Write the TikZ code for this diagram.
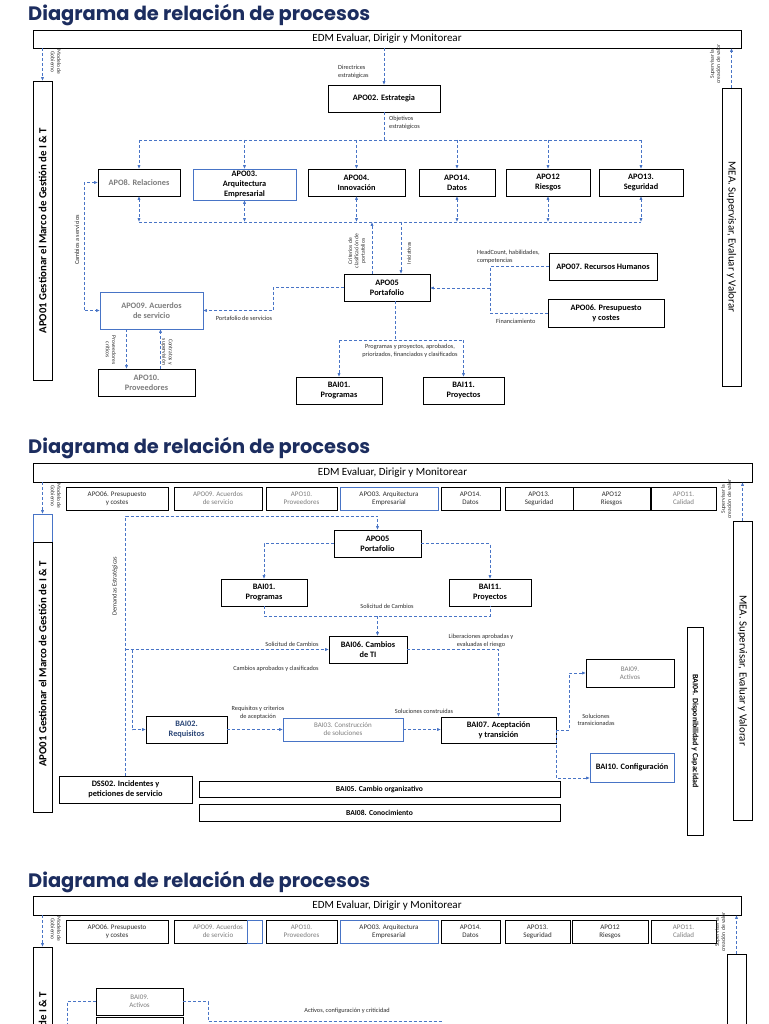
\documentclass[tikz,border=0pt]{standalone}
\usepackage{fontspec}
\usepackage{graphicx}
\setmainfont{Carlito}
\newfontfamily\titlefont{Poppins}
\usetikzlibrary{arrows.meta,calc}
\definecolor{cblue}{RGB}{72,116,198}
\definecolor{navy}{RGB}{28,45,95}
\definecolor{gtxt}{RGB}{125,125,125}
\definecolor{dtxt}{RGB}{45,45,45}
\tikzset{
 bx/.style={draw=black, line width=0.8pt, inner sep=1pt, outer sep=0pt, align=center, font=\fontsize{8.3}{9.8}\selectfont\bfseries, text=black},
 bxb/.style={bx, draw=cblue},
 gr/.style={text=gtxt},
 rg/.style={font=\fontsize{7}{8}\selectfont, text=dtxt},
 rgg/.style={font=\fontsize{7}{8}\selectfont, text=gtxt},
 dl/.style={cblue, line width=0.85pt, dash pattern=on 3pt off 2pt},
 ar/.style={dl, -{Latex[length=3.8pt,width=3.2pt]}},
 ar2/.style={dl, {Latex[length=3.8pt,width=3.2pt]}-{Latex[length=3.8pt,width=3.2pt]}},
 lb/.style={font=\fontsize{6.3}{7.6}\selectfont, text=dtxt, align=center, inner sep=0pt},
 lbs/.style={font=\fontsize{5.6}{6.3}\selectfont, text=dtxt, align=center, inner sep=0pt},
 vt/.style={font=\fontsize{10.8}{12}\selectfont\bfseries, inner sep=0pt},
 vr/.style={font=\fontsize{10.9}{12}\selectfont, inner sep=0pt},
 edmt/.style={bx, font=\fontsize{11}{12}\selectfont},
 ttl/.style={font=\titlefont\bfseries\color{navy}, anchor=west, inner sep=0pt},
}
\newcommand{\Bx}[7]{\node[#1, minimum width={#5-#3}, minimum height={#6-#4}] (#2) at ({(#3+#5)/2},{(#4+#6)/2}) {#7};}
\begin{document}
\begin{tikzpicture}[x=1pt,y=-1pt]
\useasboundingbox (0,0) rectangle (768,1024);
\clip (0,0) rectangle (768,1024);
\fill[white] (0,0) rectangle (768,1024);

% ================= SECTION 1 =================
\node[ttl] (t1) at (28,15) {\resizebox{342pt}{!}{Diagrama de relación de procesos}};
\Bx{edmt}{edm1}{33}{30}{741}{48}{EDM Evaluar, Dirigir y Monitorear}
\Bx{bx}{apo01a}{33}{81}{52}{380}{}
\node[vt, rotate=90] (apo01at) at (apo01a.center) {APO01 Gestionar el Marco de Gestión de I \& T};
\Bx{bx}{mea1}{722}{88}{741}{386}{}
\node[vr, rotate=-90] (mea1t) at (mea1.center) {MEA. Supervisar, Evaluar y Valorar};
\Bx{bx}{apo02a}{328}{85}{440}{112}{APO02. Estrategia}
\Bx{bx,gr}{apo8}{98}{169}{180}{196}{APO8. Relaciones}
\Bx{bxb}{apo03a}{193}{169}{296}{200}{APO03.\\Arquitectura\\Empresarial}
\Bx{bx}{apo04}{308}{169}{405}{196}{APO04.\\Innovación}
\Bx{bx}{apo14a}{419}{169}{495}{196}{APO14.\\Datos}
\Bx{bx}{apo12a}{506}{169}{590}{196}{APO12\\Riesgos}
\Bx{bx}{apo13a}{599}{169}{683}{196}{APO13.\\Seguridad}
\Bx{bx}{apo05a}{344}{274}{430}{301}{APO05\\Portafolio}
\Bx{bx}{apo07}{549}{253}{657}{280}{APO07. Recursos Humanos}
\Bx{bx}{apo06a}{548}{299}{664}{327}{APO06. Presupuesto\\y costes}
\Bx{bxb,gr}{apo09a}{100}{292}{203}{329}{APO09. Acuerdos\\de servicio}
\Bx{bx,gr}{apo10a}{98}{369}{195}{396}{APO10.\\Proveedores}
\Bx{bx}{bai01a}{296}{377}{382}{404}{BAI01.\\Programas}
\Bx{bx}{bai11a}{423}{377}{504}{404}{BAI11.\\Proyectos}

\coordinate (bus1) at (0,140);
\coordinate (bus2) at (0,222);
\coordinate (bus3) at (0,340);
\coordinate (j1) at (490,288);
\coordinate (k1) at (273,0);
\coordinate (c84) at (84,0);

\draw[ar] (edm1.south -| apo01a.north) -- (apo01a.north);
\node[lbs, rotate=-90] (l1) at (56,62) {Modelo de\\Gobierno};
\draw[ar] (mea1.north) -- (mea1.north |- edm1.south);
\node[lbs, rotate=90] (l2) at (715,64) {Supervisar la\\creación de valor};
\draw[ar] (edm1.south -| apo02a.north) -- (apo02a.north);
\node[lb, anchor=west, align=left] (l3) at (338,72) {Directrices\\estratégicas};
\draw[dl] (apo02a.south) -- (apo02a.south |- bus1);
\node[lb, anchor=west, align=left] (l4) at (389,123) {Objetivos\\estratégicos};
\draw[dl] (apo8.north |- bus1) -- (apo13a.north |- bus1);
\foreach \n in {apo8,apo03a,apo04,apo14a,apo12a,apo13a}{
  \draw[ar] (\n.north |- bus1) -- (\n.north);
  \draw[ar2] (\n.south) -- (\n.south |- bus2);
}
\draw[dl] (apo8.south |- bus2) -- (apo13a.south |- bus2);
\draw[ar] ([xshift=-15pt]apo05a.north) -- ([xshift=-15pt]apo05a.north |- bus2);
\node[lbs, rotate=90] (l5) at (357,251) {Criterios de\\clasificación de\\portafolios};
\draw[ar] ([xshift=14pt]apo05a.north |- bus2) -- ([xshift=14pt]apo05a.north);
\node[lbs, rotate=90] (l6) at (409,253) {Iniciativas};
\draw[dl] (apo07.west) -| (j1);
\draw[dl] (apo06a.west) -| (j1);
\draw[ar] (j1) -- (j1 -| apo05a.east);
\node[lb, anchor=west, align=left] (l7) at (477,257) {HeadCount, habilidades,\\competencias};
\node[lb, anchor=west] (l8) at (496,321) {Financiamiento};
\draw[ar] (apo05a.west) -| (k1 |- apo09a.east) -- (apo09a.east);
\node[lb] (l9) at (244,318) {Portafolio de servicios};
\draw[ar2] (apo8.west) -| (c84 |- apo09a.west) -- (apo09a.west);
\node[lb, rotate=90] (l10) at (77,240) {Cambios a servicios};
\draw[ar] ([xshift=-25pt]apo09a.south) -- ([xshift=-25pt]apo09a.south |- apo10a.north);
\node[lbs, rotate=-90] (l11) at (111,350) {Proveedores\\críticos};
\draw[ar] ([xshift=9pt]apo09a.south |- apo10a.north) -- ([xshift=9pt]apo09a.south);
\node[lbs, rotate=-90] (l12) at (167,352) {Contratos y\\supervisión};
\draw[dl] ([xshift=8pt]apo05a.south) -- ([xshift=8pt]apo05a.south |- bus3);
\draw[dl] (bai01a.north |- bus3) -- (bai11a.north |- bus3);
\draw[ar] (bai01a.north |- bus3) -- (bai01a.north);
\draw[ar] (bai11a.north |- bus3) -- (bai11a.north);
\node[lb] (l13) at (410,351) {Programas y proyectos, aprobados,\\priorizados, financiados y clasificados};

% ================= SECTION 2 =================
\node[ttl] (t2) at (28,448) {\resizebox{342pt}{!}{Diagrama de relación de procesos}};
\Bx{edmt}{edm2}{33}{463}{752}{482}{EDM Evaluar, Dirigir y Monitorear}
\Bx{bx,rg}{r2a}{66}{487}{168}{510}{APO06. Presupuesto\\y costes}
\Bx{bx,rgg}{r2b}{174}{487}{262}{510}{APO09. Acuerdos\\de servicio}
\Bx{bx,rgg}{r2c}{266}{487}{337}{510}{APO10.\\Proveedores}
\Bx{bxb,rg}{r2d}{340}{487}{438}{510}{APO03. Arquitectura\\Empresarial}
\Bx{bx,rg}{r2e}{441}{487}{500}{510}{APO14.\\Datos}
\Bx{bx,rg}{r2f}{505}{487}{573}{510}{APO13.\\Seguridad}
\Bx{bx,rg}{r2g}{573}{487}{650}{510}{APO12\\Riesgos}
\Bx{bx,rgg}{r2h}{651}{487}{716}{510}{APO11.\\Calidad}
\Bx{bxb}{apo01s}{33}{514}{52}{542}{}
\Bx{bx}{apo01b}{33}{542}{52}{812}{}
\node[vt, rotate=90] (apo01bt) at (42.5,664) {APO01 Gestionar el Marco de Gestión de I \& T};
\Bx{bx}{mea2}{733}{521}{752}{820}{}
\node[vr, rotate=-90] (mea2t) at (mea2.center) {MEA. Supervisar, Evaluar y Valorar};
\Bx{bx}{apo05b}{334}{530}{421}{557}{APO05\\Portafolio}
\Bx{bx}{bai01b}{221}{579}{307}{606}{BAI01.\\Programas}
\Bx{bx}{bai11b}{449}{579}{531}{606}{BAI11.\\Proyectos}
\Bx{bx}{bai06}{329}{636}{407}{663}{BAI06. Cambios\\de TI}
\Bx{bx}{bai07}{441}{717}{556}{743}{BAI07. Aceptación\\y transición}
\Bx{bx}{bai02}{146}{716}{227}{743}{\color{cblue!60!black}BAI02.\\\color{cblue!60!black}Requisitos}
\Bx{bxb,rgg}{bai03}{283}{718}{403}{741}{BAI03. Construcción\\de soluciones}
\Bx{bx,rgg}{bai09b}{586}{659}{674}{687}{BAI09.\\Activos}
\Bx{bxb}{bai10b}{590}{753}{674}{782}{BAI10. Configuración}
\Bx{bx}{bai04}{687}{627}{703}{835}{}
\node[inner sep=0pt, rotate=-90, font=\fontsize{8}{9}\selectfont\bfseries] (bai04t) at (bai04.center) {BAI04. Disponibilidad y Capacidad};
\Bx{bx}{dss02}{59}{776}{192}{803}{DSS02. Incidentes y\\peticiones de servicio}
\Bx{bx,font=\fontsize{7.6}{8.5}\selectfont\bfseries}{bai05}{199}{781}{560}{797}{BAI05. Cambio organizativo}
\Bx{bx,font=\fontsize{7.6}{8.5}\selectfont\bfseries}{bai08}{199}{804}{560}{821}{BAI08. Conocimiento}

\coordinate (t516) at (0,516);
\coordinate (b616) at (0,616);
\coordinate (s569) at (569,0);

\draw[ar] (edm2.south -| apo01s.north) -- (apo01s.north);
\node[lbs, rotate=-90] (m1) at (56,496) {Modelo de\\Gobierno};
\draw[ar] (mea2.north) -- (mea2.north |- edm2.south);
\node[lbs, rotate=90] (m2) at (726,499) {Supervisar la\\creación de valor};
\draw[ar] (dss02.north) -- (dss02.north |- t516) -- (apo05b.north |- t516) -- (apo05b.north);
\node[lb, rotate=90] (m3) at (115,586) {Demandas Estratégicas};
\draw[ar] (dss02.north |- bai06.west) -- (bai06.west);
\node[lb] (m4) at (292,644) {Solicitud de Cambios};
\draw[ar] ([xshift=7pt]dss02.north |- bai06.west) |- (bai02.west);
\node[lb] (m5) at (276,669) {Cambios aprobados y clasificados};
\draw[ar] (apo05b.west) -| (bai01b.north);
\draw[ar] (apo05b.east) -| (bai11b.north);
\draw[dl] (bai01b.south) -- (bai01b.south |- b616) -- (bai11b.south |- b616) -- (bai11b.south);
\draw[ar] (apo05b.south |- b616) -- (apo05b.south |- bai06.north);
\node[lb] (m6) at (387,606) {Solicitud de Cambios};
\draw[ar] (bai06.east) -| (bai07.north);
\node[lb] (m7) at (481,641) {Liberaciones aprobadas y\\evaluadas el riesgo};
\draw[ar] (bai02.east) -- (bai03.west);
\node[lb] (m8) at (258,713) {Requisitos y criterios\\de aceptación};
\draw[ar] (bai03.east) -- (bai03.east -| bai07.west);
\node[lb] (m9) at (424,711) {Soluciones construidas};
\draw[ar] (bai07.east) -- (bai07.east -| s569) |- (bai09b.west);
\draw[ar] (bai07.east) |- ([yshift=4pt]bai10b.south west);
\node[lb] (m10) at (596,720) {Soluciones\\transicionadas};

% ================= SECTION 3 =================
\node[ttl] (t3) at (28,882) {\resizebox{342pt}{!}{Diagrama de relación de procesos}};
\Bx{edmt}{edm3}{33}{896}{741}{915}{EDM Evaluar, Dirigir y Monitorear}
\Bx{bx,rg}{r3a}{66}{920}{168}{943}{APO06. Presupuesto\\y costes}
\Bx{bx,rgg}{r3b}{174}{920}{262}{943}{APO09. Acuerdos\\de servicio}
\Bx{bxb}{r3bb}{247}{920}{262}{943}{}
\Bx{bx,rgg}{r3c}{266}{920}{337}{943}{APO10.\\Proveedores}
\Bx{bxb,rg}{r3d}{340}{920}{438}{943}{APO03. Arquitectura\\Empresarial}
\Bx{bx,rg}{r3e}{441}{920}{500}{943}{APO14.\\Datos}
\Bx{bx,rg}{r3f}{505}{920}{570}{943}{APO13.\\Seguridad}
\Bx{bx,rg}{r3g}{572}{920}{648}{943}{APO12\\Riesgos}
\Bx{bx,rgg}{r3h}{651}{920}{716}{943}{APO11.\\Calidad}
\Bx{bx}{apo01c}{33}{947}{52}{1060}{}
\node[vt, rotate=90] (apo01ct) at (42.5,1095) {APO01 Gestionar el Marco de Gestión de I \& T};
\Bx{bx}{mea3}{727}{954}{746}{1060}{}
\Bx{bx,rgg}{bai09c}{96}{988}{183}{1015}{BAI09.\\Activos}
\Bx{bx}{bai10c}{96}{1017}{183}{1044}{BAI10. Configuración}
\coordinate (cl) at (67,1040);
\coordinate (cr) at (208,1021);
\coordinate (ce) at (443,1021);
\draw[ar] (edm3.south -| apo01c.north) -- (apo01c.north);
\node[lbs, rotate=-90] (n1) at (56,929) {Modelo de\\Gobierno};
\draw[ar] (mea3.north) -- (mea3.north |- edm3.south);
\node[lbs, rotate=90] (n2) at (720,932) {Supervisar la\\creación de valor};
\draw[dl] (bai09c.west) -| (cl);
\draw[dl] (bai09c.east) -| (cr) -- (ce);
\node[lb] (n3) at (347,1011) {Activos, configuración y criticidad};
\end{tikzpicture}
\end{document}
